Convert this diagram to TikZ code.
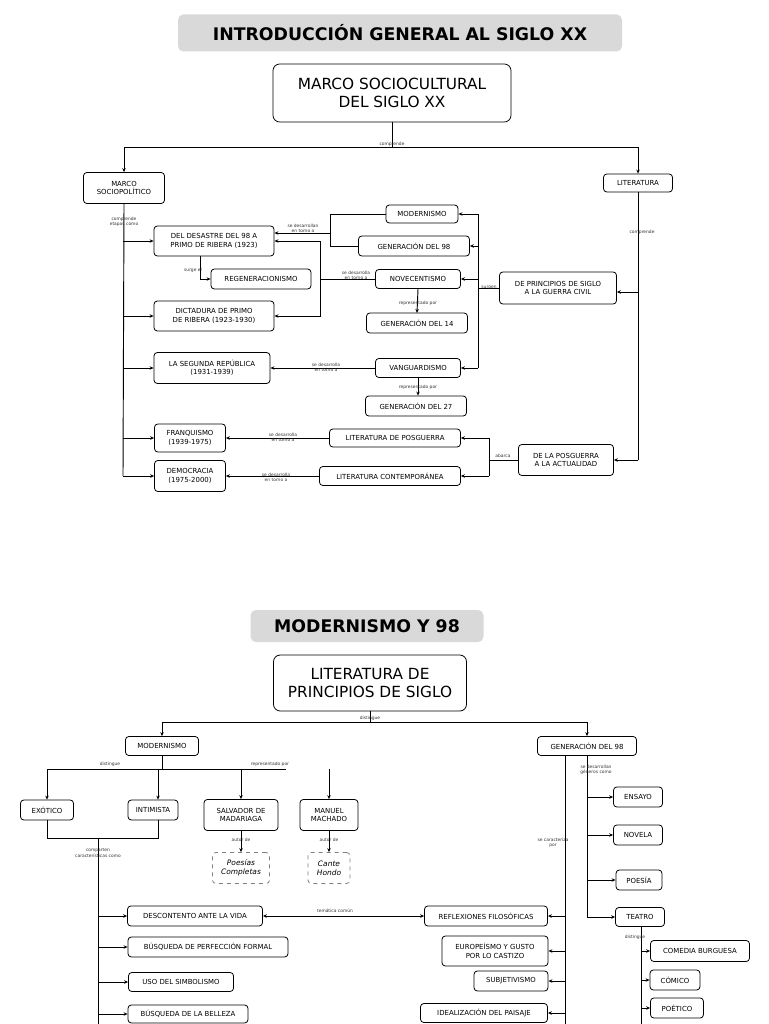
\documentclass[tikz,border=0pt]{standalone}
\usepackage{fontspec}
\setmainfont{DejaVu Sans}
\usetikzlibrary{arrows.meta}
\begin{document}
\begin{tikzpicture}[x=0.75pt,y=-0.75pt,
 box/.style={draw,rounded corners=2.5pt,align=center,inner sep=1pt,font=\fontsize{5.2}{6.3}\selectfont,line width=0.6pt},
 dbox/.style={box,dashed,draw=gray,font=\fontsize{5.6}{7}\selectfont\itshape},
 big/.style={box,font=\fontsize{11.5}{13.5}\selectfont,rounded corners=5pt},
 title/.style={fill=black!15,rounded corners=4pt,font=\fontsize{13}{15}\selectfont\bfseries},
 lab/.style={font=\fontsize{3.3}{3.9}\selectfont,align=center,text=black!80,inner sep=0pt},
 ln/.style={line width=0.7pt},
 ar/.style={ln,-{Stealth[length=3pt,width=2.6pt]}},
 w/.style={minimum width=#1*0.75pt},
 h/.style={minimum height=#1*0.75pt}]
\useasboundingbox (0,0) rectangle (768,1024);
% ---------- TOP ----------
\node[title,w=444,h=37] (t1) at (400,33) {INTRODUCCIÓN GENERAL AL SIGLO XX};
\node[big,w=238,h=58] (marco) at (392,93) {MARCO SOCIOCULTURAL\\DEL SIGLO XX};
\node[box,w=81,h=31] (socio) at (124,188) {MARCO\\SOCIOPOLÍTICO};
\node[box,w=69,h=18] (lit) at (638,183) {LITERATURA};
\node[box,w=120,h=30] (desa) at (214,241) {DEL DESASTRE DEL 98 A\\PRIMO DE RIBERA (1923)};
\node[box,w=100,h=20] (rege) at (261,279) {REGENERACIONISMO};
\node[box,w=120,h=30] (dict) at (214,316) {DICTADURA DE PRIMO\\DE RIBERA (1923-1930)};
\node[box,w=116,h=31] (rep) at (212,368) {LA SEGUNDA REPÚBLICA\\(1931-1939)};
\node[box,w=71,h=28] (fran) at (190,438) {FRANQUISMO\\(1939-1975)};
\node[box,w=71,h=31] (demo) at (190,476) {DEMOCRACIA\\(1975-2000)};
\node[box,w=72,h=18] (mod) at (422,214) {MODERNISMO};
\node[box,w=111,h=20] (g98) at (414,246) {GENERACIÓN DEL 98};
\node[box,w=85,h=19] (nov) at (418,279) {NOVECENTISMO};
\node[box,w=101,h=20] (g14) at (417,323) {GENERACIÓN DEL 14};
\node[box,w=85,h=19] (van) at (418,368) {VANGUARDISMO};
\node[box,w=101,h=20] (g27) at (416,406) {GENERACIÓN DEL 27};
\node[box,w=131,h=18] (lpos) at (395,438) {LITERATURA DE POSGUERRA};
\node[box,w=141,h=19] (lcon) at (390,476) {LITERATURA CONTEMPORÁNEA};
\node[box,w=117,h=32] (prin) at (558,288) {DE PRINCIPIOS DE SIGLO\\A LA GUERRA CIVIL};
\node[box,w=95,h=31] (posg) at (566,460) {DE LA POSGUERRA\\A LA ACTUALIDAD};
\coordinate (c1) at (392,147);
\draw[ln] (marco.south) -- (c1);
\draw[ar] (c1) -| (socio.north);
\draw[ar] (c1) -| (lit.north);
\node[lab] at (392,144) {comprende};
\draw[ln] (socio.south) -- (123,476);
\node[lab] at (124,222) {comprende\\etapas como};
\foreach \n in {desa,dict,rep,fran,demo}{\draw[ar] (123,0|-\n.west) -- (\n.west);}
\draw[ar] (desa.south -| 200,0) |- (rege.west);
\node[lab] at (193,270) {surge el};
\draw[ln] (mod.west) -| (330,246) -- (g98.west);
\draw[ar] (330,233) -- (desa.east |- 0,233);
\node[lab] at (303,228) {se desarrollan\\en torno a};
\draw[ln] (nov.west) -- (320,279);
\draw[ar] (320,279) |- (desa.east |- 0,241);
\draw[ar] (320,279) |- (dict.east);
\node[lab] at (356,275) {se desarrolla\\en torno a};
\draw[ar] (nov.south) -- (g14.north |- 0,313);
\node[lab] at (418,303) {representado por};
\draw[ar] (van.west) -- (rep.east);
\node[lab] at (326,367) {se desarrolla\\en torno a};
\draw[ar] (van.south) -- (g27.north -| van.south);
\node[lab] at (418,387) {representado por};
\draw[ar] (lpos.west) -- (fran.east);
\node[lab] at (283,437) {se desarrolla\\en torno a};
\draw[ar] (lcon.west) -- (demo.east);
\node[lab] at (276,477) {se desarrolla\\en torno a};
\draw[ln] (prin.west) -- (478,288);
\draw[ln] (478,214) -- (478,368);
\foreach \n in {mod,g98,nov,van}{\draw[ar] (478,0|-\n.east) -- (\n.east);}
\node[lab] at (489,288) {surgen};
\draw[ln] (lit.south) -- (638,460);
\draw[ar] (638,292) -- (prin.east |- 0,292);
\draw[ar] (638,460) -- (posg.east);
\node[lab] at (642,232) {comprende};
\draw[ln] (posg.west) -- (489,460);
\draw[ln] (489,438) -- (489,476);
\draw[ar] (489,438) -- (lpos.east);
\draw[ar] (489,476) -- (lcon.east);
\node[lab] at (503,456) {abarca};
% ---------- BOTTOM ----------
\node[title,w=233,h=32] (t2) at (367,626) {MODERNISMO Y 98};
\node[big,w=193,h=56] (lprin) at (370,683) {LITERATURA DE\\PRINCIPIOS DE SIGLO};
\node[box,w=73,h=19] (mod2) at (162,746) {MODERNISMO};
\node[box,w=99,h=19] (g98b) at (587,746) {GENERACIÓN DEL 98};
\coordinate (c2) at (370,722);
\draw[ln] (lprin.south) -- (c2);
\draw[ar] (c2) -| (mod2.north);
\draw[ar] (c2) -| (g98b.north);
\node[lab] at (370,718) {distingue};
\node[box,w=53,h=20] (exo) at (47,810) {EXÓTICO};
\node[box,w=50,h=20] (inti) at (153,810) {INTIMISTA};
\node[box,w=74,h=31] (salv) at (241,815) {SALVADOR DE\\MADARIAGA};
\node[box,w=58,h=31] (mach) at (329,815) {MANUEL\\MACHADO};
\node[dbox,w=57,h=31] (poes) at (241,868) {Poesías\\Completas};
\node[dbox,w=42,h=31] (cant) at (329,868) {Cante\\Hondo};
\draw[ln] (mod2.south) -- (162,769);
\draw[ln] (98,769) -- (286,769);
\draw[ar] (47,769) -- (exo.north);
\draw[ar] (158,769) -- (inti.north -| 158,0);
\draw[ar] (241,769) -- (salv.north);
\draw[ar] (329,769) -- (mach.north);
\draw[ln] (286,769) -- (286,769);
\draw[ln] (98,769) -- (98,769);
\draw[ln] (47,769) -- (286,769);
\node[lab] at (110,764) {distingue};
\node[lab] at (270,764) {representado por};
\draw[ar] (salv.south) -- (poes.north);
\draw[ar] (mach.south) -- (cant.north);
\node[lab] at (241,840) {autor de};
\node[lab] at (329,840) {autor de};
\draw[ln] (exo.south) |- (98,838) -| (inti.south -| 158,0);
\draw[ln] (98,838) -- (98,1024);
\node[lab] at (98,853) {comparten\\características como};
\node[box,w=135,h=20] (desc) at (195,916) {DESCONTENTO ANTE LA VIDA};
\node[box,w=160,h=20] (perf) at (208,947) {BÚSQUEDA DE PERFECCIÓN FORMAL};
\node[box,w=105,h=19] (simb) at (181,982) {USO DEL SIMBOLISMO};
\node[box,w=120,h=18] (bell) at (188,1014) {BÚSQUEDA DE LA BELLEZA};
\foreach \n in {desc,perf,simb,bell}{\draw[ar] (98,0|-\n.west) -- (\n.west);}
\node[box,w=123,h=20] (refl) at (486,916) {REFLEXIONES FILOSÓFICAS};
\node[box,w=106,h=30] (euro) at (495,951) {EUROPEÍSMO Y GUSTO\\POR LO CASTIZO};
\node[box,w=74,h=20] (subj) at (511,981) {SUBJETIVISMO};
\node[box,w=127,h=19] (idea) at (484,1013) {IDEALIZACIÓN DEL PAISAJE};
\draw[ln] (565,0|-g98b.south) -- (565,1024);
\foreach \n in {refl,euro,subj,idea}{\draw[ar] (565,0|-\n.east) -- (\n.east);}
\node[lab] at (553,843) {se caracteriza\\por};
\draw[{Stealth[length=3pt,width=2.6pt]}-{Stealth[length=3pt,width=2.6pt]},ln] (desc.east) -- (refl.west);
\node[lab] at (335,911) {temática común};
\node[box,w=49,h=20] (ens) at (638,797) {ENSAYO};
\node[box,w=49,h=20] (nove) at (638,835) {NOVELA};
\node[box,w=46,h=20] (poe) at (639,880) {POESÍA};
\node[box,w=49,h=19] (tea) at (640,917) {TEATRO};
\draw[ln] (587,0|-g98b.south) -- (587,917);
\foreach \n in {ens,nove,poe,tea}{\draw[ar] (587,0|-\n.west) -- (\n.west);}
\node[lab] at (596,770) {se desarrollan\\géneros como};
\node[box,w=99,h=21] (come) at (700,951) {COMEDIA BURGUESA};
\node[box,w=50,h=20] (comi) at (675,980) {CÓMICO};
\node[box,w=53,h=20] (poet) at (677,1008) {POÉTICO};
\draw[ln] (tea.south -| 641,0) -- (641,1024);
\foreach \n in {come,comi,poet}{\draw[ar] (641,0|-\n.west) -- (\n.west);}
\node[lab] at (635,937) {distingue};
\end{tikzpicture}
\end{document}
